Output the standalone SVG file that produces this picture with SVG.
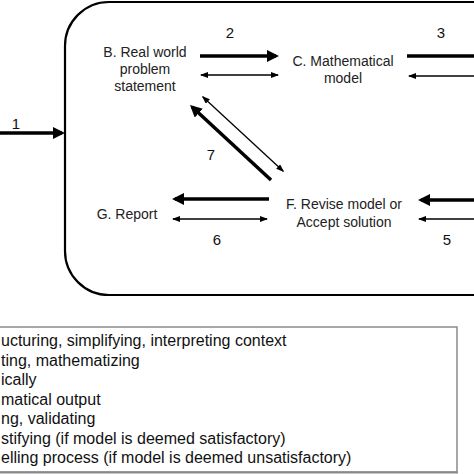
<svg xmlns="http://www.w3.org/2000/svg" width="474" height="474" viewBox="0 0 474 474">
<defs>
<style>
.t{font-family:"Liberation Sans",Arial,sans-serif;font-size:14px;fill:#222;text-anchor:middle}
.n{font-family:"Liberation Sans",Arial,sans-serif;font-size:15px;fill:#111;text-anchor:middle}
.lg{font-family:"Liberation Sans",Arial,sans-serif;font-size:16px;fill:#111}
.thick{stroke:#000;stroke-width:3.5;fill:none}
.thin{stroke:#000;stroke-width:1.3;fill:none}
</style>
<marker id="hk" markerUnits="userSpaceOnUse" markerWidth="12" markerHeight="12" refX="9" refY="6" orient="auto"><path d="M0,0 L12,6 L0,12 z" fill="#000"/></marker>
<marker id="hn" markerUnits="userSpaceOnUse" markerWidth="8" markerHeight="6" refX="7" refY="3" orient="auto"><path d="M0,0 L8,3 L0,6 z" fill="#000"/></marker>
<marker id="hns" markerUnits="userSpaceOnUse" markerWidth="8" markerHeight="6" refX="1" refY="3" orient="auto"><path d="M8,0 L0,3 L8,6 z" fill="#000"/></marker>
</defs>
<rect width="474" height="474" fill="#fff"/>
<g id="frame"><path d="M500 2 H109 A44 44 0 0 0 65 46 V251 A44 44 0 0 0 109 295 H500" fill="none" stroke="#000" stroke-width="2.2"/></g>
<g id="connectors">
<line class="thick" x1="0" y1="133" x2="62" y2="133" marker-end="url(#hk)"/>
<line class="thick" x1="200" y1="56" x2="276" y2="56" marker-end="url(#hk)"/>
<line class="thin" x1="201" y1="75" x2="278" y2="75" marker-start="url(#hns)" marker-end="url(#hn)"/>
<line class="thick" x1="407" y1="56" x2="480" y2="56"/>
<line class="thin" x1="480" y1="76" x2="409" y2="76" marker-end="url(#hn)"/>
<line class="thick" x1="480" y1="200" x2="421" y2="200" marker-end="url(#hk)"/>
<line class="thin" x1="480" y1="219" x2="419" y2="219" marker-end="url(#hn)"/>
<line class="thick" x1="269" y1="199" x2="175" y2="199" marker-end="url(#hk)"/>
<line class="thin" x1="173" y1="219" x2="267" y2="219" marker-start="url(#hns)" marker-end="url(#hn)"/>
<line class="thick" x1="271" y1="180" x2="192.2" y2="107" marker-end="url(#hk)"/>
<line class="thin" x1="202.7" y1="96.7" x2="283.3" y2="171.3" marker-start="url(#hns)" marker-end="url(#hn)"/>
<text class="n" x="16" y="129">1</text>
<text class="n" x="230" y="38">2</text>
<text class="n" x="441" y="38">3</text>
<text class="n" x="211" y="160">7</text>
<text class="n" x="217" y="245">6</text>
<text class="n" x="447" y="245">5</text>
</g>
<g id="nodeB"><text class="t" x="145" y="57">B. Real world</text><text class="t" x="145" y="74">problem</text><text class="t" x="145" y="91">statement</text></g>
<g id="nodeC"><text class="t" x="343" y="66">C. Mathematical</text><text class="t" x="343" y="83">model</text></g>
<g id="nodeF"><text class="t" x="344" y="209">F. Revise model  or</text><text class="t" x="344" y="227">Accept solution</text></g>
<g id="nodeG"><text class="t" x="127" y="219">G. Report</text></g>
<g id="legend">
<rect x="-10" y="327" width="467" height="145" fill="#fff" stroke="#8a8a8a" stroke-width="1.5"/>
<line x1="-10" y1="472.5" x2="458" y2="472.5" stroke="#8a8a8a" stroke-width="2"/>
<text class="lg" x="1" y="346">ucturing, simplifying, interpreting context</text>
<text class="lg" x="1" y="366">ting, mathematizing</text>
<text class="lg" x="1" y="385">ically</text>
<text class="lg" x="1" y="405">matical output</text>
<text class="lg" x="1" y="424">ng, validating</text>
<text class="lg" x="1" y="444">stifying (if model is deemed satisfactory)</text>
<text class="lg" x="1" y="463">elling process (if model is deemed unsatisfactory)</text>
</g>
</svg>
